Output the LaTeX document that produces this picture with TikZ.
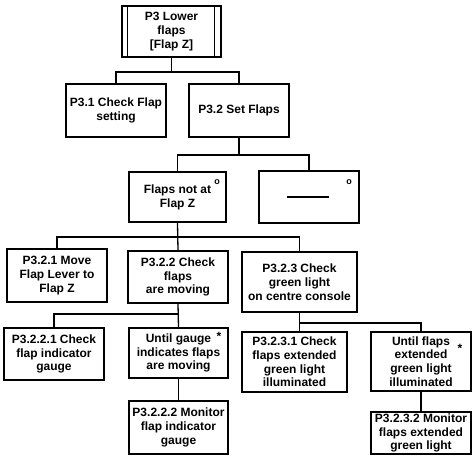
\documentclass[tikz,border=0pt]{standalone}
\usepackage{fontspec}
\setmainfont{Liberation Sans}
\usetikzlibrary{calc}
\tikzset{
  box/.style={draw, line width=1.3pt, align=center, inner sep=1pt,
    font=\bfseries\fontsize{12}{13.8}\selectfont},
  link/.style={line width=1.3pt},
  flag/.style={inner sep=0pt, font=\bfseries\fontsize{9}{9}\selectfont},
  star/.style={inner sep=0pt, font=\bfseries\fontsize{12}{12}\selectfont}
}
\begin{document}
\begin{tikzpicture}[x=1pt,y=-1pt]
    \useasboundingbox (0,0) rectangle (474,467);

    % Top task
    \node[box, minimum width=99pt, minimum height=51pt] (p3) at (171.5,31.5) {P3 Lower\\flaps\\{[Flap Z]}};
    \draw[link] ($(p3.north west)+(6,0)$) -- ($(p3.south west)+(6,0)$);
    \draw[link] ($(p3.north east)+(-7,0)$) -- ($(p3.south east)+(-7,0)$);

    % Level 1
    \node[box, minimum width=100pt, minimum height=53pt] (p31) at (116,110.5) {P3.1 Check Flap\\setting};
    \node[box, minimum width=100pt, minimum height=53pt] (p32) at (239,110.5) {P3.2 Set Flaps};
    \coordinate (j1) at (171.5,72);
    \draw[link] (p3.south) -- (j1);
    \draw[link] (p31.north) |- (j1) -| (p32.north);

    % Plans under P3.2
    \node[box, minimum width=97pt, minimum height=50pt] (notat) at (177.5,197) {Flaps not at\\Flap Z};
    \node[box, minimum width=100pt, minimum height=52pt] (blank) at (309,197) {};
    \draw[link] ($(blank.center)+(-22,0)$) -- ($(blank.center)+(20,0)$);
    \node[flag] (o1) at (217,182) {o};
    \node[flag] (o2) at (349,182) {o};
    \coordinate (j2) at (239,155);
    \draw[link] (p32.south) -- (j2);
    \draw[link] (notat.north) |- (j2) -| (blank.north);

    % Level 2
    \node[box, minimum width=100pt, minimum height=53pt] (p321) at (57,275.5) {P3.2.1 Move\\Flap Lever to\\Flap Z};
    \node[box, minimum width=100pt, minimum height=52pt] (p322) at (178,277) {P3.2.2 Check\\flaps\\are moving};
    \node[box, minimum width=115pt, minimum height=60pt] (p323) at (299.5,282) {P3.2.3 Check\\green light\\on centre console};
    \coordinate (j3) at (178,237);
    \draw[link] (notat.south) -- (p322.north);
    \draw[link] (p321.north) |- (j3) -| (p323.north);

    % Under P3.2.2
    \node[box, minimum width=100pt, minimum height=52pt] (p3221) at (54,354) {P3.2.2.1 Check\\flap indicator\\gauge};
    \node[box, minimum width=99pt, minimum height=50pt] (untilg) at (178.5,353) {Until gauge\\indicates flaps\\are moving};
    \node[star] (s1) at (219,336) {*};
    \node[box, minimum width=99pt, minimum height=53pt] (p3222) at (178.5,427.5) {P3.2.2.2 Monitor\\flap indicator\\gauge};
    \coordinate (j4) at (178,314);
    \draw[link] (p322.south) -- (untilg.north);
    \draw[link] (p3221.north) |- (j4);
    \draw[link] (untilg.south) -- (p3222.north);

    % Under P3.2.3
    \node[box, minimum width=105pt, minimum height=60pt] (p3231) at (294.5,362) {P3.2.3.1 Check\\flaps extended\\green light\\illuminated};
    \node[box, minimum width=100pt, minimum height=59pt] (untilf) at (421,361.5) {Until flaps\\extended\\green light\\illuminated};
    \node[star] (s2) at (460,348) {*};
    \node[box, minimum width=100pt, minimum height=42pt] (p3232) at (421,433) {P3.2.3.2 Monitor\\flaps extended\\green light};
    \coordinate (j5) at (299.5,323);
    \draw[link] (p323.south) -- (p323.south |- p3231.north);
    \draw[link] (j5) -| (untilf.north);
    \draw[link] (untilf.south) -- (p3232.north);
\end{tikzpicture}
\end{document}
